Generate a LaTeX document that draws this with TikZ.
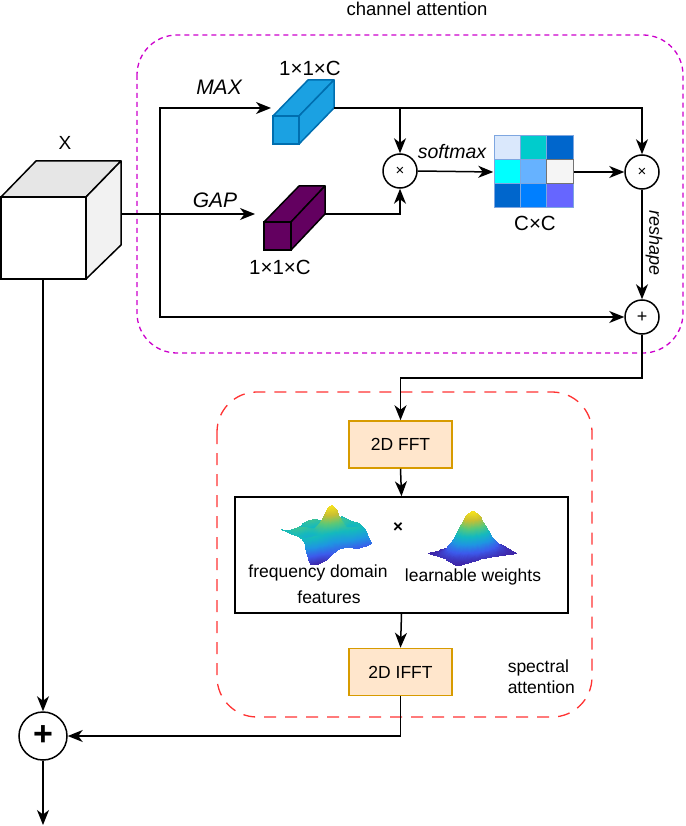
\documentclass[tikz,border=0pt]{standalone}
\usepackage{fontspec}
\setmainfont{Liberation Sans}
\usepackage{pgfplots}
\pgfplotsset{compat=1.18}
\usetikzlibrary{arrows.meta}
\definecolor{magbox}{HTML}{CC00CC}
\definecolor{redbox}{HTML}{FF3333}
\definecolor{maxfill}{HTML}{1BA1E2}
\definecolor{maxline}{HTML}{006EAF}
\definecolor{gapfill}{HTML}{630060}
\definecolor{fftfill}{HTML}{FFE6CC}
\definecolor{fftline}{HTML}{D79B00}
\definecolor{cubetop}{HTML}{E6E6E6}
\definecolor{cubeside}{HTML}{F2F2F2}
\definecolor{cA}{HTML}{DAE8FC}
\definecolor{cB}{HTML}{00CCCC}
\definecolor{cC}{HTML}{0066CC}
\definecolor{cD}{HTML}{00FFFF}
\definecolor{cE}{HTML}{66B2FF}
\definecolor{cF}{HTML}{F5F5F5}
\definecolor{cG}{HTML}{007FFF}
\definecolor{cH}{HTML}{6666FF}
\definecolor{cellline}{HTML}{7EA6E0}
\pgfplotsset{colormap={parula}{rgb255=(62,38,168) rgb255=(60,90,235) rgb255=(30,150,225) rgb255=(20,185,190) rgb255=(90,200,120) rgb255=(200,190,50) rgb255=(245,225,30)}}
\begin{document}
\begin{tikzpicture}
\begin{scope}[x=1pt,y=-1pt,line width=1.5pt,
  arr/.style={-{Stealth[length=15pt,width=12pt,inset=4.5pt]}},
  opcirc/.style={circle,draw,fill=white,minimum size=34pt,inner sep=0pt,font=\fontsize{15}{17}\selectfont},
  fftbox/.style={draw=fftline,fill=fftfill,minimum width=103pt,minimum height=47pt,inner sep=0pt,font=\fontsize{17.5}{21}\selectfont},
  lbl/.style={font=\fontsize{17.5}{21}\selectfont,inner sep=0pt},
  dimlbl/.style={font=\fontsize{20.5}{24}\selectfont,inner sep=0pt},
  itlbl/.style={font=\fontsize{21}{24}\selectfont\itshape,inner sep=0pt}]
\useasboundingbox (0,0) rectangle (685,826);
% group frames
\draw[magbox,line width=1.3pt,dash pattern=on 5pt off 4pt,rounded corners=40pt] (137,35) rectangle (683,353);
\node[font=\fontsize{18.5}{22}\selectfont,inner sep=0pt] (catt) at (417,9) {channel attention};
\draw[redbox,line width=1.3pt,dash pattern=on 12pt off 9pt,rounded corners=40pt] (217,392) rectangle (592,717);
\node[lbl,align=left,anchor=west] (spec) at (507,677) {spectral\\attention};
% input cube X
\draw[fill=cubetop,line join=round] (1,197) -- (36,161) -- (121,161) -- (86,197) -- cycle;
\draw[fill=cubeside,line join=round] (86,197) -- (121,161) -- (121,245) -- (86,279) -- cycle;
\draw[fill=white] (1,197) rectangle (86,279);
\node[font=\fontsize{19}{22}\selectfont,inner sep=0pt] (xlab) at (65,143) {X};
\coordinate (xr) at (121,214);
\coordinate (xbot) at (43,279);
% MAX cube
\draw[fill=maxfill,draw=maxline,line join=round] (273,116) -- (308,80) -- (334,80) -- (299,116) -- cycle;
\draw[fill=maxfill,draw=maxline,line join=round] (299,116) -- (334,80) -- (334,108) -- (299,144) -- cycle;
\draw[fill=maxfill,draw=maxline] (273,116) rectangle (299,144);
\coordinate (maxin) at (271,108);
\coordinate (maxr) at (334,108);
\node[dimlbl] (d1) at (310,68) {1×1×C};
\node[itlbl] (maxl) at (219,87) {MAX};
% GAP cube
\draw[fill=gapfill,line join=round] (264,222) -- (299,186) -- (325,186) -- (291,222) -- cycle;
\draw[fill=gapfill,line join=round] (291,222) -- (325,186) -- (325,214) -- (291,250) -- cycle;
\draw[fill=gapfill] (264,222) rectangle (291,250);
\coordinate (gapin) at (255,214);
\coordinate (gapr) at (325,214);
\node[dimlbl] (d2) at (280,267) {1×1×C};
\node[itlbl] (gapl) at (215,200) {GAP};
% operators
\node[opcirc] (x0) at (400,171) {×};
\node[opcirc] (x1) at (642,172) {×};
\node[opcirc,font=\fontsize{18}{20}\selectfont] (p1) at (642,317) {+};
\node[circle,draw,fill=white,minimum size=48pt,inner sep=0pt,font=\fontsize{34}{36}\selectfont\bfseries] (p2) at (43,736) {+};
% attention matrix
\node[minimum width=79pt,minimum height=72pt,inner sep=0pt] (mat) at (533.5,172) {};
\foreach \cx/\cy/\cc in {0/0/cA,1/0/cB,2/0/cC,0/1/cD,1/1/cE,0/2/cC,1/2/cG,2/2/cH}
  \draw[fill=\cc,draw=cellline,line width=1pt] (494+\cx*26.33,136+\cy*24) rectangle +(26.33,24);
\draw[fill=cF,draw=gray!90!black,line width=1pt] (494+2*26.33,136+24) rectangle +(26.33,24);
\node[dimlbl] (cc) at (535,223) {C×C};
\node[font=\fontsize{19.5}{22}\selectfont\itshape,inner sep=0pt] (smx) at (452,152) {softmax};
\node[font=\fontsize{18}{20}\selectfont\itshape,inner sep=0pt,rotate=-90] (resh) at (654,243) {reshape};
% spectral attention
\node[fftbox] (fft) at (400.5,444.5) {2D FFT};
\node[draw,minimum width=333pt,minimum height=116pt,inner sep=0pt] (mid) at (401.5,555) {};
\node[fftbox] (ifft) at (400.5,672) {2D IFFT};
\node[lbl] (fd1) at (318,573) {frequency domain};
\node[lbl] (fd2) at (329,597) {features};
\node[lbl] (lw) at (473,577) {learnable weights};
\node[font=\fontsize{17}{20}\selectfont\bfseries,inner sep=0pt] (mul) at (398,528) {×};
\coordinate (split) at (160,214);
\coordinate (turn) at (642,378);
\coordinate (outc) at (43,825);
% connectors
\draw[arr] (xr) -- (gapin);
\draw[arr] (split) |- (maxin);
\draw[arr] (split) |- (p1.west);
\draw[arr] (maxr) -| (x1.north);
\draw[arr] (x0.north |- maxr) -- (x0.north);
\draw[arr] (gapr) -| (x0.south);
\draw[arr] (x0.east) -- (mat.west);
\draw[arr] (mat.east) -- (x1.west);
\draw[arr] (x1.south) -- (p1.north);
\draw[arr] (p1.south) -- (turn) -| (fft.north);
\draw[arr] (fft.south) -- (mid.north);
\draw[arr] (mid.south) -- (ifft.north);
\draw[arr] (ifft.south) |- (p2.east);
\draw[arr] (xbot) -- (p2.north);
\draw[arr] (p2.south) -- (outc);
\end{scope}
% surfaces
\begin{axis}[at={(326pt,-550pt)},anchor=origin,hide axis,
  x={(5.1pt,-2.15pt)},y={(10.1pt,2.15pt)},z={(0pt,42pt)},
  colormap name=parula,domain=-3:3,y domain=-3:3,samples=34,z buffer=sort,clip=false]
\addplot3[surf,shader=interp] {0.5+0.5*exp(-((x+0.2)^2+(y-0.6)^2)/0.9)+0.08*sin(deg(2*x+1))*cos(deg(1.6*y))-0.55*exp(-(x-3)^2/1.2)*(0.6+0.4*exp(-(y+3)^2/4))};
\end{axis}
\begin{axis}[at={(472pt,-553pt)},anchor=origin,hide axis,
  x={(4.85pt,-2.15pt)},y={(9.85pt,2.15pt)},z={(0pt,42pt)},
  colormap name=parula,domain=-3:3,y domain=-3:3,samples=34,z buffer=sort,clip=false]
\addplot3[surf,shader=interp] {exp(-(x^2+y^2)/3.0)};
\end{axis}
\end{tikzpicture}
\end{document}
